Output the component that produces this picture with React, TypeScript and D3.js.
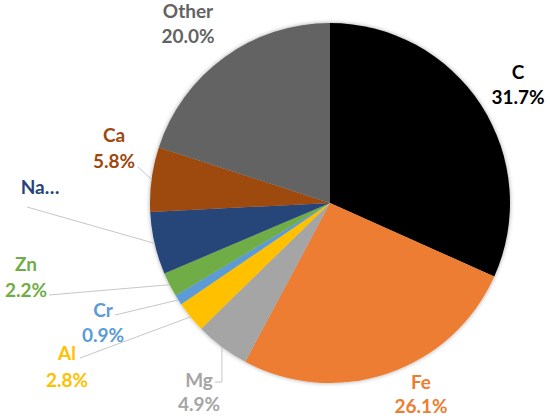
import React from "react";
import * as d3 from "d3";

const categories = ["C", "Fe", "Mg", "Al", "Cr", "Zn", "Na", "Ca", "Other"];
const values = [31.7, 26.1, 4.9, 2.8, 0.9, 2.2, 5.6, 5.8, 20.0];
const colors = ["#000000", "#ED7D31", "#A5A5A5", "#FFC000", "#5B9BD5", "#70AD47", "#264478", "#9E480E", "#636363"];
const labelNames = ["C", "Fe", "Mg", "Al", "Cr", "Zn", "Na…", "Ca", "Other"];
const showPercent = [true, true, true, true, true, true, false, true, true];

// layout of labels: [x, y of first line centre, y of second line centre, leader start x, leader start y]
const labelLayout: Record<string, { x: number; y1: number; y2: number; lx?: number; ly?: number; elbow?: boolean }> = {
  C: { x: 518, y1: 72, y2: 97 },
  Fe: { x: 421, y1: 382, y2: 406 },
  Mg: { x: 199, y1: 380, y2: 404, lx: 215, ly: 382, elbow: true },
  Al: { x: 67, y1: 353, y2: 380, lx: 80, ly: 358 },
  Cr: { x: 103, y1: 310, y2: 335, lx: 115, ly: 315 },
  Zn: { x: 26, y1: 264, y2: 290, lx: 49, ly: 295 },
  Na: { x: 40, y1: 187, y2: 187, lx: 27, ly: 207 },
  Ca: { x: 114, y1: 135, y2: 161, lx: 138, ly: 167 },
  Other: { x: 188, y1: 11, y2: 36 },
};

const W = 550;
const H = 419;
const cx = 330;
const cy = 203;
const R = 180;
const FONT = "Lato, 'Open Sans', sans-serif";
const FS = 19;
const CAP = 6.8;

export default function App() {
  const pie = d3.pie<number>().sort(null).value((d) => d)(values);
  const arc = d3.arc<d3.PieArcDatum<number>>().innerRadius(0).outerRadius(R);

  return (
    <svg width={W} height={H} style={{ position: "absolute", left: 0, top: 0, background: "#fff" }}>
      <defs>
        <filter id="shadow" x="-10%" y="-10%" width="120%" height="120%">
          <feDropShadow dx="0" dy="0" stdDeviation="2" floodColor="#000" floodOpacity="0.35" />
        </filter>
      </defs>
      <g transform={`translate(${cx},${cy})`} filter="url(#shadow)">
        {pie.map((p, i) => (
          <path key={categories[i]} d={arc(p) || ""} fill={colors[i]} />
        ))}
      </g>
      {pie.map((p, i) => {
        const lay = labelLayout[categories[i]];
        if (lay.lx === undefined) return null;
        const mid = (p.startAngle + p.endAngle) / 2;
        const ex = cx + Math.sin(mid) * R;
        const ey = cy - Math.cos(mid) * R;
        const pts = lay.elbow
          ? `${lay.lx},${lay.ly} ${ex},${lay.ly} ${ex},${ey}`
          : `${lay.lx},${lay.ly} ${ex},${ey}`;
        return (
          <polyline key={"l" + i} points={pts} fill="none" stroke="#BFBFBF" strokeWidth={0.9} />
        );
      })}
      {pie.map((p, i) => {
        const lay = labelLayout[categories[i]];
        return (
          <g key={"t" + i} fontFamily={FONT} fontWeight={700} fontSize={FS} fill={colors[i]} textAnchor="middle">
            <text x={lay.x} y={lay.y1 + CAP}>{labelNames[i]}</text>
            {showPercent[i] && (
              <text x={lay.x} y={lay.y2 + CAP}>{values[i].toFixed(1) + "%"}</text>
            )}
          </g>
        );
      })}
    </svg>
  );
}
